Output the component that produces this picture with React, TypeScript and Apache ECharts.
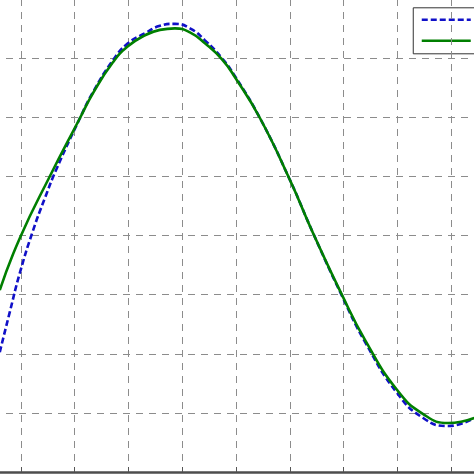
import React, { useEffect, useRef } from "react";
import * as echarts from "echarts";

// x and y in grid units
const blueX = [0.609, 0.795, 0.981, 1.223, 1.447, 1.670, 2.098, 2.340, 2.712, 2.991, 3.307, 3.586, 3.865, 4.144, 4.423, 4.740, 4.981, 5.447, 6.005, 6.433, 6.972, 7.400, 7.995, 8.479, 8.944, 9.428];
const blueY = [2.028, 2.704, 3.363, 4.073, 4.631, 5.138, 5.983, 6.422, 6.963, 7.250, 7.420, 7.546, 7.580, 7.504, 7.301, 6.997, 6.693, 5.983, 4.935, 4.039, 2.974, 2.197, 1.335, 0.913, 0.777, 0.913];

const greenX = [0.609, 0.981, 1.540, 2.098, 2.340, 2.712, 2.991, 3.307, 3.586, 3.865, 4.144, 4.423, 4.740, 4.981, 5.447, 6.005, 6.433, 6.972, 7.400, 7.995, 8.479, 8.944, 9.428];
const greenY = [3.076, 3.955, 5.002, 5.983, 6.405, 6.929, 7.200, 7.386, 7.478, 7.504, 7.436, 7.250, 6.980, 6.676, 5.983, 4.935, 4.039, 2.991, 2.231, 1.386, 0.980, 0.828, 0.913];

const xMin = 0;
const xMax = 10;
const yMin = 0;
const yMax = 8;

const OFF_X = 32.75;
const OFF_Y = 1.3;

export default function App() {
  const ref = useRef<HTMLDivElement>(null);
  useEffect(() => {
    if (!ref.current) return;
    document.body.style.overflow = "hidden";
    const chart = echarts.init(ref.current, undefined, { renderer: "svg" });
    const gridStyle = { color: "#8c8c8c", width: 1, type: [7, 6] as number[] };
    chart.setOption({
      animation: false,
      backgroundColor: "#ffffff",
      grid: { left: 0, right: 0, top: 0, bottom: 2, containLabel: false },
      xAxis: {
        type: "value",
        min: xMin,
        max: xMax,
        interval: 1,
        axisLine: { show: true, lineStyle: { color: "#4d4d4d", width: 2.5 } },
        axisTick: { show: true, inside: true, length: 5, lineStyle: { color: "#555555" } },
        axisLabel: { show: false },
        splitLine: { show: true, lineStyle: gridStyle },
      },
      yAxis: {
        type: "value",
        min: yMin,
        max: yMax,
        interval: 1,
        axisLine: { show: false },
        axisTick: { show: false },
        axisLabel: { show: false },
        splitLine: { show: true, lineStyle: gridStyle },
      },
      series: [
        {
          type: "line",
          data: blueX.map((x, i) => [x, blueY[i]]),
          smooth: 0.5,
          showSymbol: false,
          lineStyle: { color: "#1010c8", width: 2.6, type: [6, 3] },
          z: 3,
        },
        {
          type: "line",
          data: greenX.map((x, i) => [x, greenY[i]]),
          smooth: 0.5,
          showSymbol: false,
          lineStyle: { color: "#007f00", width: 2.6, type: "solid" },
          z: 4,
        },
      ],
      graphic: [
        {
          type: "group",
          z: 100,
          x: OFF_X,
          y: OFF_Y,
          children: [
            {
              type: "rect",
              shape: { x: 413.5, y: 7.5, width: 70, height: 46 },
              style: { fill: "#ffffff", stroke: "#333333", lineWidth: 1 },
            },
            {
              type: "line",
              shape: { x1: 422, y1: 19.5, x2: 471, y2: 19.5 },
              style: { stroke: "#1010c8", lineWidth: 2.6, lineDash: [6, 3] },
            },
            {
              type: "line",
              shape: { x1: 422, y1: 40.5, x2: 471, y2: 40.5 },
              style: { stroke: "#007f00", lineWidth: 2.6 },
            },
          ],
        },
      ],
    });
    return () => chart.dispose();
  }, []);
  return (
    <div
      ref={ref}
      style={{ width: 537.5, height: 475.3, position: "fixed", left: -OFF_X, top: -OFF_Y }}
    />
  );
}
